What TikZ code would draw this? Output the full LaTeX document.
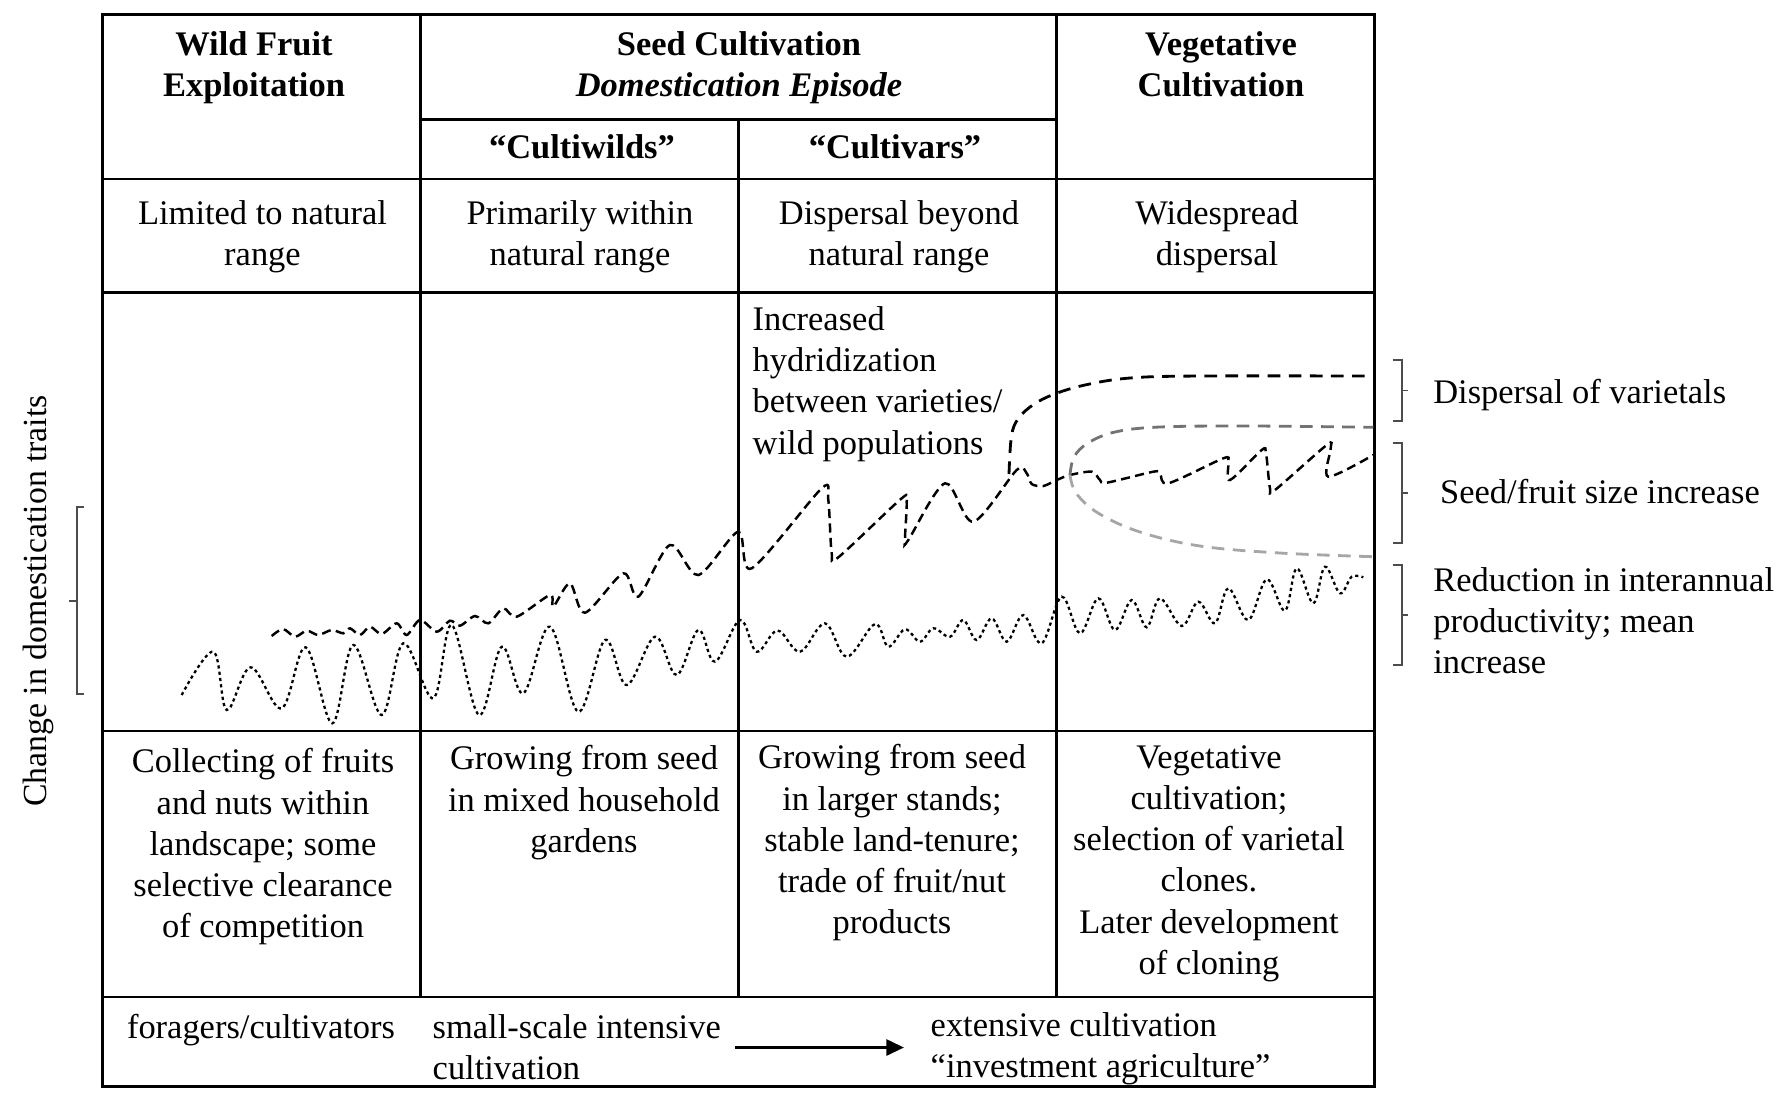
\documentclass[tikz,border=0pt]{standalone}
\usepackage{fontspec}
\setmainfont{Liberation Serif}
\usetikzlibrary{arrows.meta}

\begin{document}
\begin{tikzpicture}[
  x=0.01cm,y=-0.01cm,
  cell/.style={anchor=north,align=center,inner sep=0pt,font=\fontsize{9.8}{11.7}\selectfont},
  head/.style={cell,font=\fontsize{9.8}{11.7}\selectfont\bfseries},
  note/.style={anchor=north west,align=left,inner sep=0pt,font=\fontsize{9.8}{11.7}\selectfont},
  grid/.style={line width=0.8pt},
  brack/.style={line width=0.45pt,black!70},
  yearly/.style={line width=0.65pt,dash pattern=on 0.9pt off 0.9pt},
  trait/.style={line width=0.7pt,dash pattern=on 2.6pt off 1.5pt},
  spread/.style={line width=0.8pt,dash pattern=on 3.6pt off 2.4pt}
]
\useasboundingbox (0,0) rectangle (1787,1096);

% table frame
\draw[grid] (102.6,14.5) rectangle (1374.5,1086.5);
\foreach \y in {179,292.5,731,997}
  \draw[grid] (102.6,\y) -- (1374.5,\y);
\draw[grid] (420.5,119.5) -- (1056.5,119.5);
\draw[grid] (420.5,14.5) -- (420.5,997);
\draw[grid] (738.5,119.5) -- (738.5,997);
\draw[grid] (1056.5,14.5) -- (1056.5,997);

% headings
\node[head] (wild) at (254,31) {Wild Fruit\\Exploitation};
\node[head] (seed) at (739,31) {Seed Cultivation\\\textit{Domestication Episode}};
\node[head] (veg) at (1221,31) {Vegetative\\Cultivation};
\node[head] (cwild) at (582,134) {“Cultiwilds”};
\node[head] (cvar) at (895,134) {“Cultivars”};

% range row
\node[cell] (range1) at (262.5,200) {Limited to natural\\range};
\node[cell] (range2) at (580,200) {Primarily within\\natural range};
\node[cell] (range3) at (899,200) {Dispersal beyond\\natural range};
\node[cell] (range4) at (1217,200) {Widespread\\dispersal};

\node[note] (hybrid) at (752,306) {Increased\\hydridization\\between varieties/\\wild populations};

% practice row
\node[cell] (prac1) at (263,748) {Collecting of fruits\\and nuts within\\landscape; some\\selective clearance\\of competition};
\node[cell] (prac2) at (584,745) {Growing from seed\\in mixed household\\gardens};
\node[cell] (prac3) at (892,744) {Growing from seed\\in larger stands;\\stable land-tenure;\\trade of fruit/nut\\products};
\node[cell] (prac4) at (1209,745) {Vegetative\\cultivation;\\selection of varietal\\clones.\\Later development\\of cloning};

% bottom row
\node[cell] (forag) at (261,1014) {foragers/cultivators};
\node[note] (small) at (432,1014) {small-scale intensive\\cultivation};
\node[note] (ext) at (930,1012) {extensive cultivation\\“investment agriculture”};
\coordinate (arrS) at (735,1047.5);
\coordinate (arrE) at (904,1047.5);
\draw[line width=0.9pt,-{Triangle[length=5pt,width=4.5pt]}] (arrS) -- (arrE);

% axis
\node[rotate=90,inner sep=0pt,font=\fontsize{9.6}{11}\selectfont] (axis) at (38,601) {Change in domestication traits};
\draw[brack] (84,507) -- (77,507) -- (77,694) -- (84,694);
\draw[brack] (77,601) -- (69,601);

% curves
\draw[yearly] plot[smooth,tension=0.6] coordinates {(181.7,695) (213.3,651.7) (226.7,710) (250.7,667.3) (281.7,708.3) (305.7,647.3) (332.3,723.3) (353.3,645) (381.7,715) (403.3,643.3) (433.3,698.3) (451.7,625) (479,715) (501.7,646.7) (523.3,693.3) (550,626.7) (578.3,711.7) (605,640) (626.7,685) (655,636.7) (676.7,675) (698.3,630) (715,661.7) (740,620) (756.7,651.7) (777.5,630.5) (800,651.7) (825,623.3) (846.7,656.7) (875,624) (888.3,646.7) (905,629.3) (920,641.7) (933.3,628.3) (950,636.7) (963.3,620) (976.7,640) (991.7,618.3) (1006.7,641.7) (1023.3,615) (1041.7,643.3) (1061.7,596.7) (1080,633.3) (1098.3,598.3) (1115,630) (1131.7,600) (1146.7,627.3) (1160,598.3) (1181.7,626) (1198.3,601.7) (1215,623.3) (1228.3,588.3) (1248.3,620) (1266.7,579.3) (1285,610.7) (1296.7,568.3) (1313.3,603.3) (1325,566.7) (1340,593.3) (1351.7,576.7) (1363.3,577.3)};

\draw[trait] plot[smooth,tension=0.5] coordinates {(271.7,636) (283,629) (295,636.7) (306.7,630.7) (318.3,635) (331.7,630) (343.3,633.3) (350,628.3) (360,635) (370,626.7) (381.7,634) (396.7,623.3) (406.7,635) (420,620) (436.7,631.7) (450,620.7) (460,625.7) (475,616) (488.3,623.3) (503.3,608.3) (516.7,616.7) (550,595) (553.3,606.7) (570,583.3) (585,612.7) (623.3,573.3) (638.3,596.7) (670,545) (698.3,575) (738.3,531.7) (751.7,568.3) (821.7,488.3) (828.3,500) (831.7,553.3) (838.3,557.3) (901.7,498.3) (906.7,501.7) (905,540) (908.3,540) (945,483.3) (973.3,521.7) (1016.7,470) (1026.7,473.3) (1031.7,484) (1043.3,486) (1056.7,480) (1070,475) (1091.7,471.7) (1100,480) (1106.7,482.7) (1153.3,471.7) (1160,473.3) (1168.3,483.3) (1223.3,458.3) (1228.3,461.7) (1230,480) (1261.7,450) (1266,453.3) (1270,488.3) (1275,490) (1326.7,445) (1330.7,448.3) (1328.3,476.7) (1373.3,455)};

\draw[spread] plot[smooth,tension=0.6] coordinates {(1009,474) (1011,440) (1016,422) (1030,407) (1052,395) (1085,385) (1130,378) (1200,376) (1373.3,376)};
\draw[spread,black!55] plot[smooth,tension=0.6] coordinates {(1070,475) (1074,457) (1088,443) (1115,432) (1160,427) (1250,426) (1373.3,427.3)};
\draw[spread,black!35] plot[smooth,tension=0.6] coordinates {(1070,475) (1076,493) (1098,513) (1140,532) (1200,546) (1280,553) (1373.3,556.7)};

% side labels
\foreach \top/\bot in {360/420.7,442.7/542.7,565/665}{
  \draw[brack] (1392.7,\top) -- (1401.7,\top) -- (1401.7,\bot) -- (1392.7,\bot);
  \draw[brack] (1401.7,{(\top+\bot)/2}) -- +(6.6,0);
}
\node[note,anchor=west] (lab1) at (1432.6,395) {Dispersal of varietals};
\node[note,anchor=west] (lab2) at (1439.5,492) {Seed/fruit size increase};
\node[note] (lab3) at (1432.6,567) {Reduction in interannual\\productivity; mean\\increase};
\end{tikzpicture}
\end{document}
